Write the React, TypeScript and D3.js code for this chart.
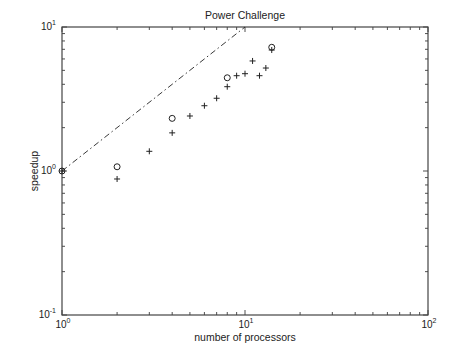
import React, { useEffect, useRef } from 'react'
import * as d3 from 'd3'

// measured speedups (plus markers) and selected runs (circles)
const plusProcs = [1, 2, 3, 4, 5, 6, 7, 8, 9, 10, 11, 12, 13, 14]
const plusSpeedup = [1, 0.88, 1.37, 1.84, 2.41, 2.84, 3.2, 3.85, 4.59, 4.74, 5.81, 4.59, 5.19, 6.92]
const circleProcs = [1, 2, 4, 8, 14]
const circleSpeedup = [1, 1.07, 2.32, 4.44, 7.23]
const idealProcs = [1, 10]
const xTickExps = [0, 1, 2]
const yTickExps = [-1, 0, 1]

const App = () => {
  const ref = useRef<SVGSVGElement>(null)
  useEffect(() => {
    if (!ref.current) return
    const svg = d3.select(ref.current)
    svg.selectAll('*').remove()

    const left = 62
    const right = 428
    const top = 27
    const bottom = 315
    const x = d3.scaleLog().domain([1, 100]).range([left, right])
    const y = d3.scaleLog().domain([0.1, 10]).range([bottom, top])
    const ink = '#222'
    const font = 'Liberation Sans, Arial, sans-serif'

    svg.append('rect').attr('width', 474).attr('height', 345).attr('fill', '#fff')

    // ticks on all sides, pointing inward
    const xTicks = x.ticks()
    const yTicks = y.ticks()
    const tl = (v: number) => (Math.abs(Math.log10(v) - Math.round(Math.log10(v))) < 1e-9 ? 5 : 3)
    const g = svg.append('g').attr('stroke', ink).attr('stroke-width', 0.8)
    xTicks.forEach((t) => {
      const len = tl(t)
      g.append('line').attr('x1', x(t)).attr('x2', x(t)).attr('y1', bottom).attr('y2', bottom - len)
      g.append('line').attr('x1', x(t)).attr('x2', x(t)).attr('y1', top).attr('y2', top + len)
    })
    yTicks.forEach((t) => {
      const len = tl(t)
      g.append('line').attr('y1', y(t)).attr('y2', y(t)).attr('x1', left).attr('x2', left + len)
      g.append('line').attr('y1', y(t)).attr('y2', y(t)).attr('x1', right).attr('x2', right - len)
    })
    svg.append('rect')
      .attr('x', left).attr('y', top).attr('width', right - left).attr('height', bottom - top)
      .attr('fill', 'none').attr('stroke', '#444').attr('stroke-width', 1.2)

    // tick labels
    xTickExps.forEach((e) => {
      const t = svg.append('text').attr('x', x(Math.pow(10, e)) + 1).attr('y', 328)
        .attr('text-anchor', 'middle').attr('font-family', font).attr('font-size', 10).attr('fill', ink)
      t.append('tspan').text('10')
      t.append('tspan').attr('dy', -5).attr('font-size', 7).text(String(e))
    })
    yTickExps.forEach((e) => {
      const t = svg.append('text').attr('x', 56).attr('y', y(Math.pow(10, e)) + 3)
        .attr('text-anchor', 'end').attr('font-family', font).attr('font-size', 10).attr('fill', ink)
      t.append('tspan').text('10')
      t.append('tspan').attr('dy', -5).attr('font-size', 7).text(String(e))
    })

    svg.append('text').attr('x', (left + right) / 2).attr('y', 19).attr('text-anchor', 'middle')
      .attr('font-family', font).attr('font-size', 10.5).attr('fill', ink).text('Power Challenge')
    svg.append('text').attr('x', (left + right) / 2).attr('y', 341).attr('text-anchor', 'middle')
      .attr('font-family', font).attr('font-size', 10.5).attr('fill', ink).text('number of processors')
    svg.append('text').attr('transform', `translate(38,${(top + bottom) / 2}) rotate(-90)`)
      .attr('text-anchor', 'middle').attr('font-family', font).attr('font-size', 10.5).attr('fill', ink)
      .text('speedup')

    // ideal speedup, dash-dot
    const line = d3.line<number>().x((d) => x(d)).y((d) => y(d))
    svg.append('path').attr('d', line(idealProcs))
      .attr('fill', 'none').attr('stroke', ink).attr('stroke-width', 0.9).attr('stroke-dasharray', '6,3,1.5,3')

    const pg = svg.append('g').attr('stroke', ink).attr('stroke-width', 1).attr('fill', 'none')
    plusProcs.forEach((p, i) => {
      const cx = x(p)
      const cy = y(plusSpeedup[i])
      pg.append('line').attr('x1', cx - 3).attr('x2', cx + 3).attr('y1', cy).attr('y2', cy)
      pg.append('line').attr('x1', cx).attr('x2', cx).attr('y1', cy - 3).attr('y2', cy + 3)
    })
    circleProcs.forEach((p, i) => {
      pg.append('circle').attr('cx', x(p)).attr('cy', y(circleSpeedup[i])).attr('r', 3)
    })
  }, [])

  return <svg ref={ref} width={474} height={345} style={{ position: 'absolute', left: 0, top: 0 }} />
}

export default App
